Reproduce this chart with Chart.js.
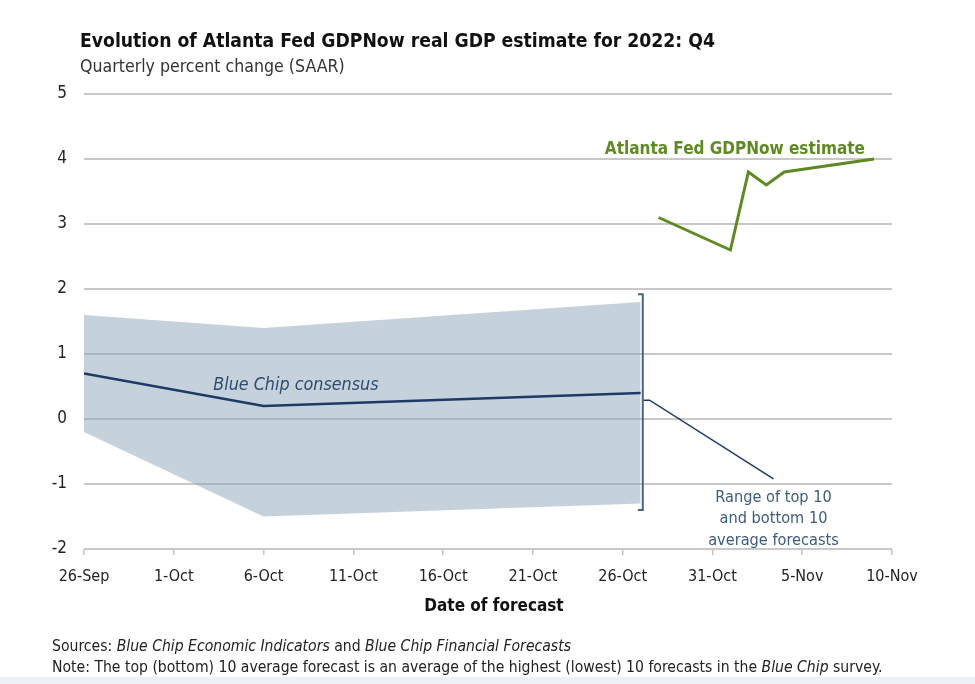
<!DOCTYPE html>
<html>
<head>
<meta charset="utf-8">
<script src="https://cdn.jsdelivr.net/npm/chart.js@4"></script>
<style>
  html,body{margin:0;padding:0;background:#fff;}
  #wrap{position:relative;width:975px;height:684px;overflow:hidden;background:#fff;}
  canvas{position:absolute;left:0;top:0;}
  .t{position:absolute;white-space:nowrap;font-family:"Liberation Sans Narrow","DejaVu Sans Condensed","Liberation Sans",sans-serif;color:#222;}
  #title{left:80px;top:29px;font-size:19.2px;font-weight:bold;color:#111;}
  #sub{left:80px;top:56px;font-size:17.6px;color:#333;}
  #xtitle{left:0;width:988px;text-align:center;top:595px;font-size:17px;font-weight:bold;color:#111;}
  #src{left:52px;top:637px;font-size:15.6px;color:#222;}
  #note{left:52px;top:658px;font-size:15.6px;color:#222;}
  #strip{position:absolute;left:0;top:677px;width:975px;height:7px;background:#eef2f6;}
</style>
</head>
<body>
<div id="wrap">
  <canvas id="c" width="975" height="684"></canvas>
  <div class="t" id="title">Evolution of Atlanta Fed GDPNow real GDP estimate for 2022: Q4</div>
  <div class="t" id="sub">Quarterly percent change (SAAR)</div>
  <div class="t" id="xtitle">Date of forecast</div>
  <div class="t" id="src">Sources: <i>Blue Chip Economic Indicators</i> and <i>Blue Chip Financial Forecasts</i></div>
  <div class="t" id="note">Note: The top (bottom) 10 average forecast is an average of the highest (lowest) 10 forecasts in the <i>Blue Chip</i> survey.</div>
  <div id="strip"></div>
</div>
<script>
// x values are days since 26-Sep-2022
const xTickLabels = ['26-Sep','1-Oct','6-Oct','11-Oct','16-Oct','21-Oct','26-Oct','31-Oct','5-Nov','10-Nov'];
const yTicks = [-2,-1,0,1,2,3,4,5];

const blueChipDays = [0, 10, 31];
const bandTop      = [1.6, 1.4, 1.8];
const bandBottom   = [-0.2, -1.5, -1.3];
const consensus    = [0.7, 0.2, 0.4];

const gdpNowDays = [32, 36, 37, 38, 39, 44];
const gdpNow     = [3.1, 2.6, 3.8, 3.6, 3.8, 4.0];

// annotation geometry (in data units)
const bracketX = [30.85, 31.12, 31.12, 30.85];
const bracketY = [1.92, 1.92, -1.4, -1.4];
const pointerX = [31.15, 31.5, 38.4];
const pointerY = [0.29, 0.29, -0.92];

const pts = (xs, ys) => xs.map((x, i) => ({x, y: ys[i]}));
const FONT = '"Liberation Sans Narrow","DejaVu Sans Condensed","Liberation Sans",sans-serif';

const labelsPlugin = {
  id: 'labels',
  afterDatasetsDraw(chart) {
    const {ctx, scales: {x, y}} = chart;
    ctx.save();
    ctx.textBaseline = 'middle';
    ctx.textAlign = 'center';
    ctx.fillStyle = '#2f4b70';
    ctx.font = 'italic 17.8px ' + FONT;
    ctx.fillText('Blue Chip consensus', x.getPixelForValue(11.8), y.getPixelForValue(0.52));
    ctx.fillStyle = '#5e8a22';
    ctx.font = 'bold 17px ' + FONT;
    ctx.fillText('Atlanta Fed GDPNow estimate', x.getPixelForValue(36.25), y.getPixelForValue(4.15));
    ctx.fillStyle = '#3e5c7e';
    ctx.font = '16.2px ' + FONT;
    const cx = x.getPixelForValue(38.4);
    ctx.fillText('Range of top 10', cx, y.getPixelForValue(-1.21));
    ctx.fillText('and bottom 10', cx, y.getPixelForValue(-1.54));
    ctx.fillText('average forecasts', cx, y.getPixelForValue(-1.87));
    ctx.restore();
  }
};

new Chart(document.getElementById('c'), {
  type: 'line',
  data: {
    datasets: [
      {label: 'top', data: pts(blueChipDays, bandTop), borderWidth: 0, pointRadius: 0,
       backgroundColor: 'rgba(139,163,184,0.5)', fill: '+1', tension: 0, order: 5},
      {label: 'bottom', data: pts(blueChipDays, bandBottom), borderWidth: 0, pointRadius: 0, fill: false, order: 5},
      {label: 'consensus', data: pts(blueChipDays, consensus), borderColor: '#1e3a66', borderWidth: 2.5, pointRadius: 0, fill: false, order: 1},
      {label: 'gdpnow', data: pts(gdpNowDays, gdpNow), borderColor: '#5e8a22', borderWidth: 3, pointRadius: 0, fill: false, order: 1},
      {label: 'bracket', data: pts(bracketX, bracketY), borderColor: '#4a6382', borderWidth: 2, pointRadius: 0, fill: false, order: 1},
      {label: 'pointer', data: pts(pointerX, pointerY), borderColor: '#1e3a66', borderWidth: 1.5, pointRadius: 0, fill: false, order: 1}
    ]
  },
  options: {
    responsive: false,
    animation: false,
    layout: {padding: {top: 94, right: 83, bottom: 0, left: 0}},
    plugins: {legend: {display: false}, tooltip: {enabled: false}},
    scales: {
      x: {
        type: 'linear', min: 0, max: 45,
        afterFit: s => { s.height = 135; },
        afterBuildTicks: s => { s.ticks = xTickLabels.map((_, i) => ({value: i * 5})); },
        ticks: {callback: (v) => xTickLabels[Math.round(v / 5)], maxRotation: 0, autoSkip: false, padding: 12,
                color: '#222', font: {family: FONT, size: 16}},
        grid: {drawOnChartArea: false, drawTicks: true, tickLength: 6, color: '#c4c4c4', lineWidth: 1.5},
        border: {display: false}
      },
      y: {
        min: -2, max: 5,
        afterFit: s => { s.width = 84; },
        afterBuildTicks: s => { s.ticks = yTicks.map(v => ({value: v})); },
        ticks: {padding: 17, color: '#222', font: {family: FONT, size: 17}},
        grid: {color: '#c8c8c8', lineWidth: 2, drawTicks: false},
        border: {display: false}
      }
    }
  },
  plugins: [labelsPlugin]
});
</script>
</body>
</html>
